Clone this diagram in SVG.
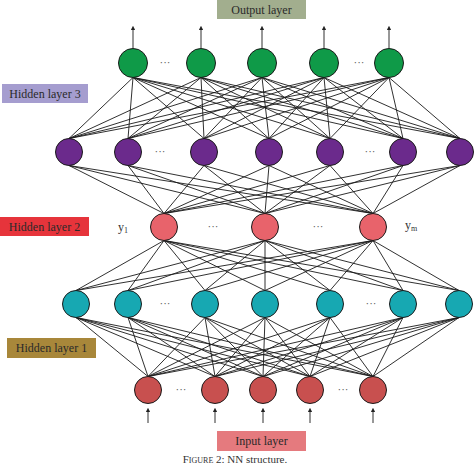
<svg xmlns="http://www.w3.org/2000/svg" width="474" height="465" viewBox="0 0 474 465">
<defs>
<marker id="ah" viewBox="0 0 6 6" refX="3" refY="3" markerWidth="5" markerHeight="5" orient="auto">
<path d="M0,0 L6,3 L0,6 z" fill="#222"/>
</marker>
<style>
.lbl{font-family:"Liberation Serif","DejaVu Serif",serif;font-size:12px;fill:#2a2a2a;text-anchor:middle;dominant-baseline:central}
.dots{font-family:"Liberation Serif",serif;font-size:11px;fill:#555;text-anchor:middle}
.c{stroke:#1a1a1a;stroke-width:1}
.g{fill:#0f9a48}.p{fill:#6b2a8c}.k{fill:#e8636b}.t{fill:#17a8b2}.r{fill:#c8504f}
#connectors line{stroke:#1a1a1a;stroke-width:0.9}
.arr{stroke:#333;stroke-width:1;marker-end:url(#ah)}
</style>
</defs>
<rect width="474" height="465" fill="#fff"/>
<g id="connectors">
<g id="c-g-p">
<line x1="133" y1="77.5" x2="69" y2="138.5"/><line x1="133" y1="77.5" x2="128" y2="138.5"/><line x1="133" y1="77.5" x2="204" y2="138.5"/><line x1="133" y1="77.5" x2="269" y2="138.5"/><line x1="133" y1="77.5" x2="330" y2="138.5"/><line x1="133" y1="77.5" x2="403" y2="138.5"/><line x1="133" y1="77.5" x2="460" y2="138.5"/>
<line x1="201" y1="77.5" x2="69" y2="138.5"/><line x1="201" y1="77.5" x2="128" y2="138.5"/><line x1="201" y1="77.5" x2="204" y2="138.5"/><line x1="201" y1="77.5" x2="269" y2="138.5"/><line x1="201" y1="77.5" x2="330" y2="138.5"/><line x1="201" y1="77.5" x2="403" y2="138.5"/><line x1="201" y1="77.5" x2="460" y2="138.5"/>
<line x1="262" y1="77.5" x2="69" y2="138.5"/><line x1="262" y1="77.5" x2="128" y2="138.5"/><line x1="262" y1="77.5" x2="204" y2="138.5"/><line x1="262" y1="77.5" x2="269" y2="138.5"/><line x1="262" y1="77.5" x2="330" y2="138.5"/><line x1="262" y1="77.5" x2="403" y2="138.5"/><line x1="262" y1="77.5" x2="460" y2="138.5"/>
<line x1="324" y1="77.5" x2="69" y2="138.5"/><line x1="324" y1="77.5" x2="128" y2="138.5"/><line x1="324" y1="77.5" x2="204" y2="138.5"/><line x1="324" y1="77.5" x2="269" y2="138.5"/><line x1="324" y1="77.5" x2="330" y2="138.5"/><line x1="324" y1="77.5" x2="403" y2="138.5"/><line x1="324" y1="77.5" x2="460" y2="138.5"/>
<line x1="389" y1="77.5" x2="69" y2="138.5"/><line x1="389" y1="77.5" x2="128" y2="138.5"/><line x1="389" y1="77.5" x2="204" y2="138.5"/><line x1="389" y1="77.5" x2="269" y2="138.5"/><line x1="389" y1="77.5" x2="330" y2="138.5"/><line x1="389" y1="77.5" x2="403" y2="138.5"/><line x1="389" y1="77.5" x2="460" y2="138.5"/>
</g>
<g id="c-p-k">
<line x1="69" y1="165.5" x2="164" y2="213.5"/><line x1="69" y1="165.5" x2="265" y2="213.5"/><line x1="69" y1="165.5" x2="373" y2="213.5"/>
<line x1="128" y1="165.5" x2="164" y2="213.5"/><line x1="128" y1="165.5" x2="265" y2="213.5"/><line x1="128" y1="165.5" x2="373" y2="213.5"/>
<line x1="204" y1="165.5" x2="164" y2="213.5"/><line x1="204" y1="165.5" x2="265" y2="213.5"/><line x1="204" y1="165.5" x2="373" y2="213.5"/>
<line x1="269" y1="165.5" x2="164" y2="213.5"/><line x1="269" y1="165.5" x2="265" y2="213.5"/><line x1="269" y1="165.5" x2="373" y2="213.5"/>
<line x1="330" y1="165.5" x2="164" y2="213.5"/><line x1="330" y1="165.5" x2="265" y2="213.5"/><line x1="330" y1="165.5" x2="373" y2="213.5"/>
<line x1="403" y1="165.5" x2="164" y2="213.5"/><line x1="403" y1="165.5" x2="265" y2="213.5"/><line x1="403" y1="165.5" x2="373" y2="213.5"/>
<line x1="460" y1="165.5" x2="164" y2="213.5"/><line x1="460" y1="165.5" x2="265" y2="213.5"/><line x1="460" y1="165.5" x2="373" y2="213.5"/>
</g>
<g id="c-k-t">
<line x1="164" y1="240.5" x2="76" y2="290.5"/><line x1="164" y1="240.5" x2="128" y2="290.5"/><line x1="164" y1="240.5" x2="205" y2="290.5"/><line x1="164" y1="240.5" x2="265" y2="290.5"/><line x1="164" y1="240.5" x2="330" y2="290.5"/><line x1="164" y1="240.5" x2="403" y2="290.5"/><line x1="164" y1="240.5" x2="459" y2="290.5"/>
<line x1="265" y1="240.5" x2="76" y2="290.5"/><line x1="265" y1="240.5" x2="128" y2="290.5"/><line x1="265" y1="240.5" x2="205" y2="290.5"/><line x1="265" y1="240.5" x2="265" y2="290.5"/><line x1="265" y1="240.5" x2="330" y2="290.5"/><line x1="265" y1="240.5" x2="403" y2="290.5"/><line x1="265" y1="240.5" x2="459" y2="290.5"/>
<line x1="373" y1="240.5" x2="76" y2="290.5"/><line x1="373" y1="240.5" x2="128" y2="290.5"/><line x1="373" y1="240.5" x2="205" y2="290.5"/><line x1="373" y1="240.5" x2="265" y2="290.5"/><line x1="373" y1="240.5" x2="330" y2="290.5"/><line x1="373" y1="240.5" x2="403" y2="290.5"/><line x1="373" y1="240.5" x2="459" y2="290.5"/>
</g>
<g id="c-t-r">
<line x1="76" y1="317.5" x2="148" y2="376.5"/><line x1="76" y1="317.5" x2="215" y2="376.5"/><line x1="76" y1="317.5" x2="263" y2="376.5"/><line x1="76" y1="317.5" x2="310" y2="376.5"/><line x1="76" y1="317.5" x2="373" y2="376.5"/>
<line x1="128" y1="317.5" x2="148" y2="376.5"/><line x1="128" y1="317.5" x2="215" y2="376.5"/><line x1="128" y1="317.5" x2="263" y2="376.5"/><line x1="128" y1="317.5" x2="310" y2="376.5"/><line x1="128" y1="317.5" x2="373" y2="376.5"/>
<line x1="205" y1="317.5" x2="148" y2="376.5"/><line x1="205" y1="317.5" x2="215" y2="376.5"/><line x1="205" y1="317.5" x2="263" y2="376.5"/><line x1="205" y1="317.5" x2="310" y2="376.5"/><line x1="205" y1="317.5" x2="373" y2="376.5"/>
<line x1="265" y1="317.5" x2="148" y2="376.5"/><line x1="265" y1="317.5" x2="215" y2="376.5"/><line x1="265" y1="317.5" x2="263" y2="376.5"/><line x1="265" y1="317.5" x2="310" y2="376.5"/><line x1="265" y1="317.5" x2="373" y2="376.5"/>
<line x1="330" y1="317.5" x2="148" y2="376.5"/><line x1="330" y1="317.5" x2="215" y2="376.5"/><line x1="330" y1="317.5" x2="263" y2="376.5"/><line x1="330" y1="317.5" x2="310" y2="376.5"/><line x1="330" y1="317.5" x2="373" y2="376.5"/>
<line x1="403" y1="317.5" x2="148" y2="376.5"/><line x1="403" y1="317.5" x2="215" y2="376.5"/><line x1="403" y1="317.5" x2="263" y2="376.5"/><line x1="403" y1="317.5" x2="310" y2="376.5"/><line x1="403" y1="317.5" x2="373" y2="376.5"/>
<line x1="459" y1="317.5" x2="148" y2="376.5"/><line x1="459" y1="317.5" x2="215" y2="376.5"/><line x1="459" y1="317.5" x2="263" y2="376.5"/><line x1="459" y1="317.5" x2="310" y2="376.5"/><line x1="459" y1="317.5" x2="373" y2="376.5"/>
</g>
<g id="c-out">
<line class="arr" x1="133" y1="48" x2="133" y2="28"/><line class="arr" x1="201" y1="48" x2="201" y2="28"/><line class="arr" x1="262" y1="48" x2="262" y2="28"/><line class="arr" x1="324" y1="48" x2="324" y2="28"/><line class="arr" x1="389" y1="48" x2="389" y2="28"/>
</g>
<g id="c-in">
<line class="arr" x1="148" y1="423" x2="148" y2="410"/><line class="arr" x1="215" y1="423" x2="215" y2="410"/><line class="arr" x1="263" y1="423" x2="263" y2="410"/><line class="arr" x1="310" y1="423" x2="310" y2="410"/><line class="arr" x1="373" y1="423" x2="373" y2="410"/>
</g>
</g>
<g id="output-layer"><rect x="217" y="0" width="89" height="19" fill="#a2ae8e"/><text class="lbl" x="261.5" y="9.5">Output layer</text></g>
<g id="hidden-layer-3"><rect x="2" y="84" width="86" height="19" fill="#a59dcf"/><text class="lbl" x="45" y="93.5">Hidden layer 3</text></g>
<g id="hidden-layer-2"><rect x="0" y="217" width="89" height="19" fill="#e6343b"/><text class="lbl" x="44.5" y="226.5">Hidden layer 2</text></g>
<g id="hidden-layer-1"><rect x="7" y="338" width="89" height="20" fill="#a8873a"/><text class="lbl" x="51.5" y="348">Hidden layer 1</text></g>
<g id="input-layer"><rect x="217" y="431" width="89" height="20" fill="#e57a7e"/><text class="lbl" x="261.5" y="441">Input layer</text></g>
<g id="out-1"><circle class="c g" cx="133" cy="63" r="14.5"/></g>
<g id="out-2"><circle class="c g" cx="201" cy="63" r="14.5"/></g>
<g id="out-3"><circle class="c g" cx="262" cy="63" r="14.5"/></g>
<g id="out-4"><circle class="c g" cx="324" cy="63" r="14.5"/></g>
<g id="out-5"><circle class="c g" cx="389" cy="63" r="14.5"/></g>
<text class="dots" x="165" y="66">···</text><text class="dots" x="359" y="66">···</text>
<g id="h3-1"><circle class="c p" cx="69" cy="152" r="13.5"/></g>
<g id="h3-2"><circle class="c p" cx="128" cy="152" r="13.5"/></g>
<g id="h3-3"><circle class="c p" cx="204" cy="152" r="13.5"/></g>
<g id="h3-4"><circle class="c p" cx="269" cy="152" r="13.5"/></g>
<g id="h3-5"><circle class="c p" cx="330" cy="152" r="13.5"/></g>
<g id="h3-6"><circle class="c p" cx="403" cy="152" r="13.5"/></g>
<g id="h3-7"><circle class="c p" cx="460" cy="152" r="13.5"/></g>
<text class="dots" x="160" y="155">···</text><text class="dots" x="370" y="155">···</text>
<g id="h2-1"><circle class="c k" cx="164" cy="227" r="13.5"/></g>
<g id="h2-2"><circle class="c k" cx="265" cy="227" r="13.5"/></g>
<g id="h2-3"><circle class="c k" cx="373" cy="227" r="13.5"/></g>
<text class="dots" x="213" y="230">···</text><text class="dots" x="318" y="230">···</text>
<text x="123" y="231" style="font-family:'Liberation Serif',serif;font-size:12px;fill:#333" text-anchor="middle">y<tspan font-size="8" dy="2">1</tspan></text>
<text x="411" y="229" style="font-family:'Liberation Serif',serif;font-size:12px;fill:#333" text-anchor="middle">y<tspan font-size="8" dy="2">m</tspan></text>
<g id="h1-1"><circle class="c t" cx="76" cy="304" r="13.5"/></g>
<g id="h1-2"><circle class="c t" cx="128" cy="304" r="13.5"/></g>
<g id="h1-3"><circle class="c t" cx="205" cy="304" r="13.5"/></g>
<g id="h1-4"><circle class="c t" cx="265" cy="304" r="13.5"/></g>
<g id="h1-5"><circle class="c t" cx="330" cy="304" r="13.5"/></g>
<g id="h1-6"><circle class="c t" cx="403" cy="304" r="13.5"/></g>
<g id="h1-7"><circle class="c t" cx="459" cy="304" r="13.5"/></g>
<text class="dots" x="165" y="307">···</text><text class="dots" x="371" y="307">···</text>
<g id="in-1"><circle class="c r" cx="148" cy="390" r="13.5"/></g>
<g id="in-2"><circle class="c r" cx="215" cy="390" r="13.5"/></g>
<g id="in-3"><circle class="c r" cx="263" cy="390" r="13.5"/></g>
<g id="in-4"><circle class="c r" cx="310" cy="390" r="13.5"/></g>
<g id="in-5"><circle class="c r" cx="373" cy="390" r="13.5"/></g>
<text class="dots" x="181" y="393">···</text><text class="dots" x="343" y="393">···</text>
<text x="235" y="463" style="font-family:'Liberation Serif',serif;font-size:11px;fill:#333" text-anchor="middle"><tspan style="font-variant:small-caps">Figure</tspan> 2: NN structure.</text>
</svg>
